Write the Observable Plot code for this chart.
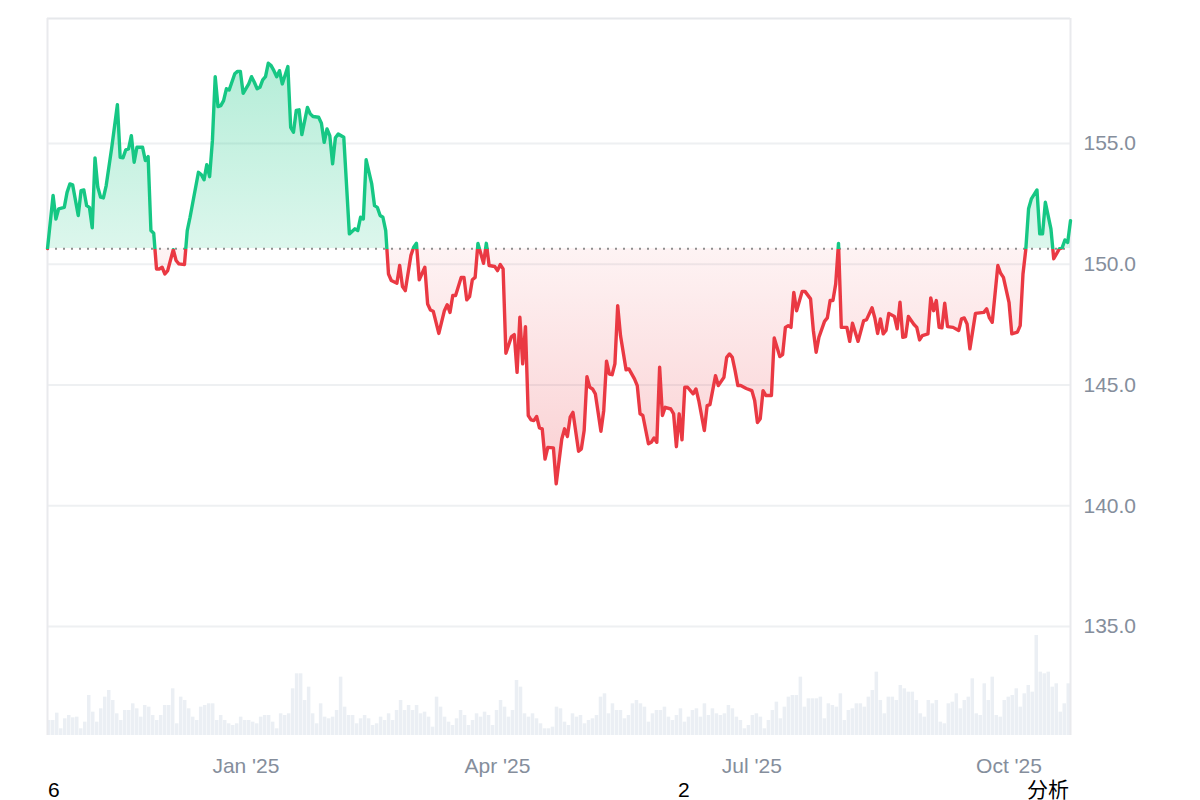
<!DOCTYPE html>
<html><head><meta charset="utf-8">
<script src="https://cdn.jsdelivr.net/npm/d3@7"></script>
<script src="https://cdn.jsdelivr.net/npm/@observablehq/plot@0.6"></script>
<style>
body{margin:0;background:#fff;}
#wrap{position:relative;width:1200px;height:800px;overflow:hidden;}
#wrap svg{position:absolute;left:0;top:0;}
.note{position:absolute;top:781px;font:21px "Liberation Sans","Noto Sans CJK SC",sans-serif;line-height:18px;color:#000;white-space:nowrap;}
</style></head><body>
<div id="wrap"></div>
<script>
const dates = ["2024-10-22","2024-10-24","2024-10-25","2024-10-26","2024-10-28","2024-10-29","2024-10-30","2024-10-31","2024-11-02","2024-11-03","2024-11-04","2024-11-05","2024-11-06","2024-11-07","2024-11-08","2024-11-09","2024-11-10","2024-11-11","2024-11-12","2024-11-14","2024-11-16","2024-11-17","2024-11-18","2024-11-19","2024-11-20","2024-11-21","2024-11-22","2024-11-23","2024-11-25","2024-11-26","2024-11-27","2024-11-28","2024-11-29","2024-11-30","2024-12-01","2024-12-02","2024-12-03","2024-12-04","2024-12-06","2024-12-07","2024-12-08","2024-12-10","2024-12-11","2024-12-12","2024-12-13","2024-12-15","2024-12-16","2024-12-17","2024-12-18","2024-12-19","2024-12-20","2024-12-21","2024-12-22","2024-12-23","2024-12-24","2024-12-25","2024-12-26","2024-12-28","2024-12-29","2024-12-30","2024-12-31","2025-01-02","2025-01-03","2025-01-04","2025-01-05","2025-01-06","2025-01-07","2025-01-08","2025-01-09","2025-01-10","2025-01-11","2025-01-12","2025-01-13","2025-01-14","2025-01-16","2025-01-17","2025-01-18","2025-01-19","2025-01-20","2025-01-21","2025-01-23","2025-01-24","2025-01-25","2025-01-27","2025-01-28","2025-01-29","2025-01-30","2025-01-31","2025-02-01","2025-02-02","2025-02-03","2025-02-05","2025-02-07","2025-02-09","2025-02-10","2025-02-11","2025-02-12","2025-02-13","2025-02-15","2025-02-16","2025-02-17","2025-02-18","2025-02-19","2025-02-20","2025-02-21","2025-02-22","2025-02-24","2025-02-25","2025-02-26","2025-02-27","2025-03-01","2025-03-02","2025-03-03","2025-03-04","2025-03-06","2025-03-07","2025-03-08","2025-03-09","2025-03-11","2025-03-13","2025-03-14","2025-03-15","2025-03-16","2025-03-17","2025-03-19","2025-03-20","2025-03-21","2025-03-22","2025-03-23","2025-03-24","2025-03-25","2025-03-27","2025-03-28","2025-03-29","2025-03-31","2025-04-01","2025-04-02","2025-04-03","2025-04-04","2025-04-06","2025-04-07","2025-04-08","2025-04-09","2025-04-10","2025-04-11","2025-04-12","2025-04-13","2025-04-14","2025-04-15","2025-04-16","2025-04-17","2025-04-18","2025-04-19","2025-04-21","2025-04-22","2025-04-24","2025-04-25","2025-04-26","2025-04-27","2025-04-28","2025-04-30","2025-05-01","2025-05-02","2025-05-03","2025-05-04","2025-05-05","2025-05-06","2025-05-08","2025-05-09","2025-05-10","2025-05-11","2025-05-12","2025-05-13","2025-05-14","2025-05-15","2025-05-17","2025-05-18","2025-05-20","2025-05-21","2025-05-22","2025-05-23","2025-05-25","2025-05-26","2025-05-27","2025-05-28","2025-05-29","2025-05-30","2025-05-31","2025-06-02","2025-06-03","2025-06-04","2025-06-05","2025-06-06","2025-06-07","2025-06-08","2025-06-10","2025-06-11","2025-06-12","2025-06-14","2025-06-15","2025-06-16","2025-06-18","2025-06-19","2025-06-21","2025-06-22","2025-06-23","2025-06-24","2025-06-25","2025-06-26","2025-06-27","2025-06-29","2025-07-01","2025-07-02","2025-07-03","2025-07-04","2025-07-05","2025-07-06","2025-07-08","2025-07-09","2025-07-11","2025-07-12","2025-07-13","2025-07-14","2025-07-15","2025-07-16","2025-07-17","2025-07-19","2025-07-20","2025-07-22","2025-07-23","2025-07-24","2025-07-25","2025-07-27","2025-07-28","2025-07-29","2025-07-30","2025-07-31","2025-08-01","2025-08-02","2025-08-04","2025-08-05","2025-08-06","2025-08-08","2025-08-10","2025-08-11","2025-08-13","2025-08-14","2025-08-15","2025-08-16","2025-08-17","2025-08-18","2025-08-19","2025-08-21","2025-08-22","2025-08-23","2025-08-24","2025-08-25","2025-08-26","2025-08-28","2025-08-29","2025-08-30","2025-08-31","2025-09-02","2025-09-03","2025-09-04","2025-09-05","2025-09-06","2025-09-07","2025-09-08","2025-09-09","2025-09-11","2025-09-13","2025-09-14","2025-09-15","2025-09-16","2025-09-17","2025-09-19","2025-09-22","2025-09-23","2025-09-24","2025-09-25","2025-09-27","2025-09-28","2025-09-29","2025-10-01","2025-10-02","2025-10-04","2025-10-05","2025-10-06","2025-10-07","2025-10-08","2025-10-09","2025-10-11","2025-10-12","2025-10-13","2025-10-14","2025-10-16","2025-10-17","2025-10-19","2025-10-20","2025-10-21","2025-10-22","2025-10-23"];

const prices = [150.65,152.85,151.88,152.30,152.36,152.98,153.33,153.29,152.02,153.05,153.08,152.43,152.36,151.51,154.41,153.19,152.78,152.75,153.26,154.85,156.61,154.43,154.41,154.74,154.78,155.33,154.23,154.85,154.85,154.30,154.46,151.40,151.29,149.81,149.81,149.88,149.60,149.74,150.61,150.16,150.02,149.99,151.40,151.95,152.57,153.81,153.72,153.50,154.13,153.63,155.12,157.77,156.53,156.57,156.78,157.27,157.22,157.89,157.99,157.99,157.08,157.47,157.77,157.54,157.27,157.33,157.64,157.77,158.33,158.23,158.02,157.77,158.02,157.47,158.19,155.67,155.47,156.37,156.40,155.37,156.50,156.23,156.12,156.09,155.84,155.05,155.61,155.33,154.16,155.24,155.40,155.26,151.26,151.47,151.40,151.95,151.88,154.33,153.33,152.43,152.36,152.02,151.95,151.40,149.60,149.33,149.22,149.95,149.08,148.91,150.36,150.71,150.87,149.36,149.88,148.36,148.11,148.06,147.14,148.08,148.33,148.01,148.71,148.71,149.46,149.46,148.53,148.66,149.36,149.46,150.87,150.04,150.87,149.95,149.91,149.74,149.99,149.81,146.32,147.01,147.09,145.53,147.81,145.88,147.42,143.74,143.56,143.53,143.70,143.23,143.19,141.94,142.42,142.40,140.91,142.77,143.19,142.87,143.67,143.87,142.26,142.36,143.12,145.35,144.91,144.84,144.64,143.09,143.94,145.99,145.46,145.43,145.88,148.29,147.05,145.63,145.67,145.26,144.98,143.81,143.74,142.57,142.63,142.81,142.63,145.74,143.74,144.08,144.01,143.81,142.45,143.81,142.73,144.91,144.91,144.64,144.84,144.36,143.12,144.15,144.19,145.39,144.98,145.32,146.15,146.29,146.15,145.60,144.98,144.98,144.86,144.77,144.36,143.45,143.61,144.77,144.57,144.57,146.95,146.18,146.26,147.39,147.46,147.39,148.84,148.08,148.88,148.88,148.57,147.26,146.36,146.98,147.64,147.78,148.50,148.50,149.19,150.87,147.39,147.39,146.81,147.56,146.81,147.67,147.70,148.20,147.78,147.14,147.74,147.12,147.26,147.97,147.84,147.33,148.43,146.98,147.01,147.84,147.51,147.39,146.87,147.05,147.12,148.61,148.08,148.50,147.39,147.37,148.39,147.42,147.39,147.26,147.74,147.78,147.53,146.50,147.97,148.01,148.16,147.78,147.60,149.95,149.63,149.46,148.43,147.12,147.19,147.46,149.60,150.61,152.30,152.71,153.08,151.26,151.26,152.57,151.47,150.23,150.64,150.68,151.01,150.91,151.81];

const baselinePrice = 150.65;

const volumes = [45,45,67,20,50,60,53,55,20,40,120,70,40,80,115,135,105,65,45,75,75,95,80,55,90,85,60,45,60,90,90,140,35,115,105,80,55,45,85,90,95,95,45,60,45,35,30,35,55,45,45,40,35,55,60,60,40,20,65,60,65,140,185,185,105,145,65,35,95,55,50,55,75,175,85,60,60,35,50,60,50,30,35,55,45,65,45,75,
105,75,90,75,90,65,70,55,25,115,85,55,40,30,50,75,60,30,45,65,55,70,60,30,75,105,85,55,75,165,145,65,55,65,50,35,20,20,25,85,80,40,30,65,55,60,35,45,50,60,115,125,65,95,75,75,50,60,95,105,95,85,40,65,75,75,85,55,45,60,80,40,55,75,80,55,95,60,80,65,60,65,90,80,55,45,20,30,60,65,55,20,45,75,100,
50,85,115,120,120,175,85,110,110,110,115,50,95,90,85,125,45,75,80,95,95,85,115,135,190,105,65,115,115,105,150,140,130,130,105,65,55,105,95,105,40,35,95,100,125,80,105,115,170,65,60,155,105,175,60,55,105,115,120,140,85,125,150,130,300,190,185,190,145,155,70,95,155];

const yTicks = [135, 140, 145, 150, 155];
const xTickDates = ["2025-01-01", "2025-04-01", "2025-07-01", "2025-10-01"];
const footerLabels = ["6", "2", "分析"];

const W = 1200, H = 778;
const M = {left: 47, right: 130, top: 18, bottom: 43};
const yDomain = [130.49, 160.18];
const green = "#16c784", red = "#ea3943";

const series = dates.map((d, i) => ({date: new Date(d), price: prices[i]}));
const xDomain = [series[0].date, series[series.length - 1].date];
const vols = volumes.map((v, i) => ({i, v}));

const wrap = document.getElementById("wrap");

const volPlot = Plot.plot({
  width: W, height: H,
  marginLeft: M.left, marginRight: M.right, marginTop: M.top, marginBottom: M.bottom,
  style: {background: "transparent"},
  x: {type: "band", domain: d3.range(volumes.length), paddingInner: 0.12, paddingOuter: 0, round: false, axis: null},
  y: {domain: [0, 2151], axis: null},
  marks: [Plot.barY(vols, {x: "i", y: "v", fill: "#ebeff4"})]
});
wrap.appendChild(volPlot);

const main = Plot.plot({
  width: W, height: H,
  marginLeft: M.left, marginRight: M.right, marginTop: M.top, marginBottom: M.bottom,
  style: {background: "transparent", fontFamily: "'Liberation Sans', Arial, sans-serif", fontSize: "21px", color: "#858e9c", overflow: "visible"},
  x: {type: "utc", domain: xDomain},
  y: {domain: yDomain},
  marks: [
    Plot.gridY(yTicks, {stroke: "#eef0f2", strokeOpacity: 1, strokeWidth: 2}),
    Plot.ruleY([yDomain[1]], {stroke: "#e6e8eb", strokeWidth: 2}),
    Plot.ruleX(xDomain, {stroke: "#e9eaed", strokeWidth: 2}),
    Plot.areaY(series, {x: "date", y1: baselinePrice, y2: "price", fill: "url(#areaGrad)"}),
    Plot.ruleY([baselinePrice], {stroke: "#8f8f8f", strokeWidth: 2, strokeDasharray: "2,6"}),
    Plot.line(series, {x: "date", y: "price", stroke: "url(#lineGrad)", strokeWidth: 3.4, strokeLinejoin: "round", strokeLinecap: "round"}),
    Plot.axisY(yTicks, {anchor: "right", tickSize: 0, tickPadding: 13, tickFormat: d => d.toFixed(1), label: null, fill: "#858e9c"}),
    Plot.axisX(xTickDates.map(d => new Date(d)), {tickSize: 0, tickPadding: 23, tickFormat: d3.utcFormat("%b '%y"), label: null, fill: "#858e9c"})
  ]
});
wrap.appendChild(main);

// gradients positioned with the plot's own y scale
const yS = main.scale("y");
const bOff = yS.apply(baselinePrice) / H;
const defs = d3.select(main).insert("defs", ":first-child");
const lg = defs.append("linearGradient").attr("id", "lineGrad")
  .attr("gradientUnits", "userSpaceOnUse").attr("x1", 0).attr("y1", 0).attr("x2", 0).attr("y2", H);
[[0, green], [bOff, green], [bOff, red], [1, red]].forEach(([o, c]) =>
  lg.append("stop").attr("offset", o).attr("stop-color", c));
const ag = defs.append("linearGradient").attr("id", "areaGrad")
  .attr("gradientUnits", "userSpaceOnUse").attr("x1", 0).attr("y1", 0).attr("x2", 0).attr("y2", H);
[[yS.apply(yDomain[1]) / H, green, 0.36], [bOff, green, 0.15], [bOff, red, 0.06],
 [yS.apply(141) / H, red, 0.24], [1, red, 0.3]].forEach(([o, c, a]) =>
  ag.append("stop").attr("offset", o).attr("stop-color", c).attr("stop-opacity", a));

// footer labels
const pos = [{left: "48px"}, {left: "678px"}, {right: "131px"}];
footerLabels.forEach((t, i) => {
  const s = document.createElement("span");
  s.className = "note";
  s.textContent = t;
  Object.assign(s.style, pos[i]);
  wrap.appendChild(s);
});
</script>
</body></html>
